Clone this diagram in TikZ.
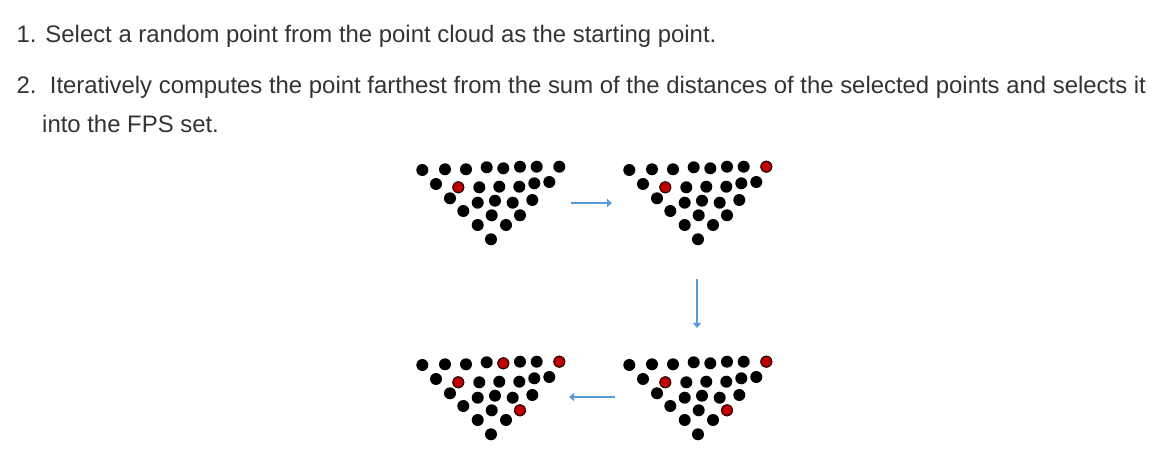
\documentclass[tikz,border=0pt]{standalone}
\usepackage{fontspec}
\setmainfont{Liberation Sans}
\usetikzlibrary{arrows.meta}
\definecolor{txt}{HTML}{333333}
\definecolor{dotred}{HTML}{C00000}
\definecolor{arrowblue}{HTML}{5B9BD5}
\tikzset{
  blackdot/.style={circle,fill=black,inner sep=0pt,minimum size=12pt},
  reddot/.style={circle,fill=dotred,draw=black!70!dotred,line width=1pt,inner sep=0pt,minimum size=11pt},
  itemtext/.style={anchor=base west,inner sep=0pt,text=txt,font=\fontsize{23.9}{28}\selectfont},
  flow/.style={draw=arrowblue,line width=2.4pt,-{Triangle[length=5pt,width=8pt]}}
}
\newcommand{\mycloud}[3]{%
  \begin{scope}[shift={(#2,#3)}]
    \foreach \px/\py [count=\i] in {
      422.3/170, 445/169.3, 466/169.3, 486.7/167.3, 503.3/168.3, 520/166.7, 536.7/166.7, 559.3/166.7,
      436/184, 458.3/187.3, 479.3/187.3, 499.3/186.7, 519.3/186.7, 534.3/183.3, 549.3/182,
      450/198.3, 477.7/202.7, 495/200.7, 512.7/202.7, 532.3/200,
      463.3/211, 491.7/215.3, 520/215.3,
      477.7/225, 506/225,
      491/239.3}
      \node[blackdot] (#1-\i) at (\px,\py) {};
  \end{scope}}
\begin{document}
\begin{tikzpicture}[x=1pt,y=-1pt]
\useasboundingbox (0,0) rectangle (1171,465);
\node[itemtext] (l1) at (16.5,42.5) {1. Select a random point from the point cloud as the starting point.};
\node[itemtext] (l2) at (16.5,93.3) {2.\ \ Iteratively computes the point farthest from the sum of the distances of the selected points and selects it};
\node[itemtext] (l3) at (42,132.3) {into the FPS set.};
\mycloud{a}{0}{0}
\mycloud{b}{207}{0}
\mycloud{c}{0}{195}
\mycloud{d}{207}{195}
\node[reddot] (ra1) at (a-10) {};
\node[reddot] (rb1) at (b-10) {};
\node[reddot] (rb2) at (b-8) {};
\node[reddot] (rc1) at (c-10) {};
\node[reddot] (rc2) at (c-5) {};
\node[reddot] (rc3) at (c-8) {};
\node[reddot] (rc4) at (c-23) {};
\node[reddot] (rd1) at (d-10) {};
\node[reddot] (rd2) at (d-8) {};
\node[reddot] (rd3) at (d-23) {};
\coordinate (ar1s) at (571,203);
\coordinate (ar1e) at (612,203);
\coordinate (ar2s) at (697,279);
\coordinate (ar2e) at (697,328);
\coordinate (ar3s) at (615,397);
\coordinate (ar3e) at (569,397);
\draw[flow] (ar1s) -- (ar1e);
\draw[flow] (ar2s) -- (ar2e);
\draw[flow] (ar3s) -- (ar3e);
\end{tikzpicture}
\end{document}
